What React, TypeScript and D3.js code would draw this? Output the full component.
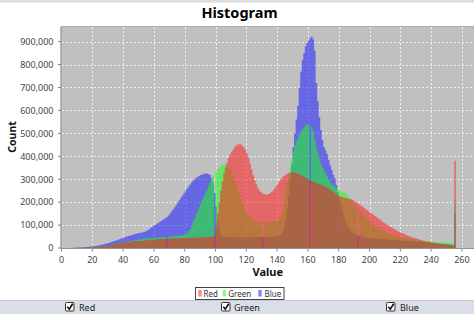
import React from "react";
import * as d3 from "d3";

// Histogram counts per bin (in thousands), bins 0..255
const redK = [
  0,0,0,0,0,0,0,0,0,1,
  1,1,1,1,1,1,2,2,2,3,
  3,3,4,4,5,5,6,7,8,9,
  10,11,13,14,16,18,19,21,22,23,
  24,25,26,26,27,28,29,29,30,30,
  31,31,32,32,33,34,34,35,36,36,
  37,37,38,38,39,39,40,40,40,41,
  41,41,42,42,43,43,43,43,44,44,
  44,44,45,45,45,45,45,46,46,46,
  46,47,47,47,48,48,48,49,50,55,
  100,150,200,250,290,325,350,372,392,408,
  420,430,440,447,451,453,451,446,438,428,
  412,392,368,342,318,296,278,264,252,244,
  239,235,233,233,235,239,245,252,260,270,
  280,290,299,307,314,320,324,327,329,330,
  330,329,327,324,321,318,314,310,306,302,
  298,295,292,289,286,283,281,278,276,273,
  270,267,263,259,255,250,245,240,236,232,
  228,225,222,220,218,216,215,213,211,208,
  204,200,195,190,185,180,175,170,165,160,
  155,150,145,140,135,130,125,120,115,110,
  106,101,97,93,89,85,81,77,73,70,
  67,64,61,58,55,52,49,47,45,43,
  41,39,37,35,33,31,29,28,27,26,
  24,23,22,21,20,19,18,17,16,15,
  14,13,12,11,10,380,
];

const greenK = [
  0,0,0,0,0,0,0,0,0,0,
  0,1,1,1,1,1,2,2,2,3,
  3,4,4,5,5,6,6,7,8,9,
  10,11,13,14,16,18,20,21,23,24,
  25,27,28,29,31,32,33,34,35,36,
  37,38,39,40,41,42,42,43,44,44,
  45,45,46,46,47,47,48,48,0,49,
  50,50,51,51,52,53,53,54,56,58,
  60,65,72,80,95,112,130,148,165,180,
  195,210,225,240,255,270,285,300,315,0,
  335,345,352,358,362,365,365,360,352,340,
  330,312,295,275,255,235,215,195,178,163,
  150,140,132,125,120,117,115,114,113,113,
  0,112,112,112,112,112,113,114,116,118,
  120,124,135,160,200,245,285,320,350,385,
  420,445,465,480,495,507,518,528,536,538,
  535,0,530,510,470,440,415,390,370,352,
  339,325,312,300,290,281,274,268,262,256,
  252,248,244,240,235,230,224,216,206,196,
  188,180,0,165,157,150,142,135,128,122,
  116,110,104,98,93,88,83,79,75,71,
  68,65,62,60,58,56,54,52,50,48,
  47,45,44,43,42,41,40,39,38,37,
  36,35,34,33,32,31,31,30,30,29,
  28,28,27,27,26,26,25,25,24,24,
  23,23,22,22,21,210,
];

const blueK = [
  0,0,0,0,0,0,0,1,1,1,
  2,2,2,3,3,4,4,5,5,6,
  7,8,9,10,12,13,15,16,18,20,
  22,24,26,28,30,33,35,38,40,43,
  45,48,50,52,54,56,58,60,62,64,
  65,67,68,70,72,76,80,85,90,95,
  100,104,108,112,117,121,126,130,135,142,
  150,159,168,178,188,198,208,218,228,238,
  248,258,268,277,286,293,300,306,310,314,
  318,321,324,325,325,323,318,305,285,240,
  180,120,85,62,52,49,48,48,47,47,
  47,47,47,47,47,47,47,47,47,47,
  47,47,47,47,47,48,48,48,48,48,
  48,48,48,48,48,48,48,49,50,51,
  52,54,57,65,85,120,170,230,300,370,
  440,500,560,620,700,770,820,850,880,895,
  905,915,922,910,860,720,640,570,515,470,
  440,425,410,385,360,340,320,305,275,245,
  215,185,160,135,115,100,88,78,70,64,
  60,57,55,53,51,50,48,46,45,44,
  43,42,42,41,41,40,40,39,39,38,
  38,37,37,36,36,35,35,34,34,33,
  33,32,32,31,31,30,30,29,29,28,
  27,27,26,26,25,25,24,24,23,22,
  22,21,21,20,20,19,18,18,17,17,
  16,16,15,15,14,150,
];

const seriesNames = ["Red", "Green", "Blue"];
const seriesColors = ["rgb(255,30,30)", "rgb(30,255,30)", "rgb(30,30,255)"];
const seriesValues = [redK, greenK, blueK];
const xTicks = [0, 20, 40, 60, 80, 100, 120, 140, 160, 180, 200, 220, 240, 260];
const yTicks = [0, 100000, 200000, 300000, 400000, 500000, 600000, 700000, 800000, 900000];

const FONT = "'Noto Sans', 'DejaVu Sans', sans-serif";
const ALPHA = 0.55;

export default function App() {
  const W = 474;
  const H = 314;
  const left = 61.5;
  const right = 473.5;
  const top = 26.5;
  const bottom = 248;

  const x = d3.scaleLinear().domain([0, 267.5]).range([left, right]);
  const y = d3.scaleLinear().domain([0, 966000]).range([bottom, top]);
  const fmt = d3.format(",");

  const area = d3
    .area<[number, number]>()
    .x((d) => x(d[0]))
    .y0(y(0))
    .y1((d) => y(d[1] * 1000))
    .curve(d3.curveStepAfter);

  const pathFor = (vals: number[]) => {
    const pts: [number, number][] = vals.map((v, i) => [i, v]);
    pts.push([vals.length, vals[vals.length - 1]]);
    return area(pts) || "";
  };

  // draw order: Blue, Green, Red (red on top)
  const drawOrder = [2, 1, 0];

  const legendItems = [
    { sq: 198.3, tx: 203.5 },
    { sq: 222.7, tx: 228.3 },
    { sq: 258.3, tx: 264.5 },
  ];
  const checkItems = [
    { bx: 65.5, tx: 79 },
    { bx: 221.5, tx: 234 },
    { bx: 386.5, tx: 400 },
  ];

  return (
    <svg
      width={W}
      height={H}
      style={{ position: "absolute", left: 0, top: 0, background: "#ffffff" }}
      fontFamily={FONT}
    >
      <rect x={0} y={0} width={W} height={H} fill="#ffffff" />
      <rect x={0} y={0} width={W} height={2.5} fill="#dcdcdc" />
      <text x={239.5} y={18} textAnchor="middle" fontSize={14.5} fontWeight="bold" fill="#000">
        Histogram
      </text>

      {/* plot background */}
      <rect x={left} y={top} width={W - left + 10} height={bottom - top} fill="#c0c0c0" />

      {/* grid lines */}
      <g stroke="#ffffff" strokeWidth={1} strokeDasharray="2,2" opacity={0.75} shapeRendering="crispEdges">
        {yTicks.filter((t) => t > 0).map((t) => (
          <line key={"gy" + t} x1={left} x2={W} y1={Math.round(y(t)) + 0.5} y2={Math.round(y(t)) + 0.5} />
        ))}
        {xTicks.filter((t) => t > 0).map((t) => (
          <line key={"gx" + t} x1={Math.round(x(t)) + 0.5} x2={Math.round(x(t)) + 0.5} y1={top} y2={bottom} />
        ))}
      </g>

      {/* series */}
      {drawOrder.map((si) => (
        <path key={seriesNames[si]} d={pathFor(seriesValues[si])} fill={seriesColors[si]} fillOpacity={ALPHA} />
      ))}

      {/* plot outline / axes */}
      <line x1={left} x2={W} y1={top} y2={top} stroke="#a0a0a0" strokeWidth={0.8} />
      <line x1={left - 0.5} x2={left - 0.5} y1={top} y2={bottom + 1} stroke="#707070" strokeWidth={1} />
      <line x1={left} x2={W} y1={bottom + 0.5} y2={bottom + 0.5} stroke="#909090" strokeWidth={1} />

      {/* y axis ticks */}
      {yTicks.map((t) => (
        <g key={"yt" + t}>
          <line x1={left - 3.5} x2={left - 0.5} y1={y(t)} y2={y(t)} stroke="#808080" strokeWidth={1} />
          <text x={53.5} y={y(t) + 3.3} textAnchor="end" fontSize={9} fill="#444">
            {fmt(t)}
          </text>
        </g>
      ))}

      {/* x axis ticks */}
      {xTicks.map((t) => (
        <g key={"xt" + t}>
          <line x1={x(t)} x2={x(t)} y1={bottom + 1} y2={bottom + 3.5} stroke="#808080" strokeWidth={1} />
          <text x={x(t)} y={262.5} textAnchor="middle" fontSize={9} fill="#444">
            {t}
          </text>
        </g>
      ))}

      <text x={(left + W) / 2} y={276} textAnchor="middle" fontSize={11} fontWeight="bold" fill="#111">
        Value
      </text>
      <text
        transform={`translate(16,137) rotate(-90)`}
        textAnchor="middle"
        fontSize={10.5}
        fontWeight="bold"
        fill="#111"
      >
        Count
      </text>

      {/* legend */}
      <rect x={195.5} y={287.5} width={88.5} height={12} fill="#ffffff" stroke="#444" strokeWidth={1} />
      {seriesNames.map((n, i) => (
        <g key={"lg" + n}>
          <rect x={legendItems[i].sq} y={290} width={3.4} height={6.5} fill={seriesColors[i]} fillOpacity={ALPHA} />
          <text x={legendItems[i].tx} y={296.5} fontSize={8} fill="#333">
            {n}
          </text>
        </g>
      ))}

      {/* bottom checkbox bar */}
      <rect x={0} y={300.5} width={W} height={H - 300.5} fill="#dadee6" />
      <line x1={0} x2={W} y1={300.5} y2={300.5} stroke="#c6cad2" strokeWidth={1} />
      {seriesNames.map((n, i) => (
        <g key={"cb" + n}>
          <rect x={checkItems[i].bx} y={302.5} width={8.5} height={8.5} fill="#ffffff" stroke="#333" strokeWidth={1} rx={1} />
          <path
            d={`M${checkItems[i].bx + 1.8},${306.8} L${checkItems[i].bx + 3.8},${309.2} L${checkItems[i].bx + 7.2},${303.8}`}
            fill="none"
            stroke="#111"
            strokeWidth={1.6}
          />
          <text x={checkItems[i].tx} y={310.5} fontSize={9} fill="#222">
            {n}
          </text>
        </g>
      ))}
    </svg>
  );
}
